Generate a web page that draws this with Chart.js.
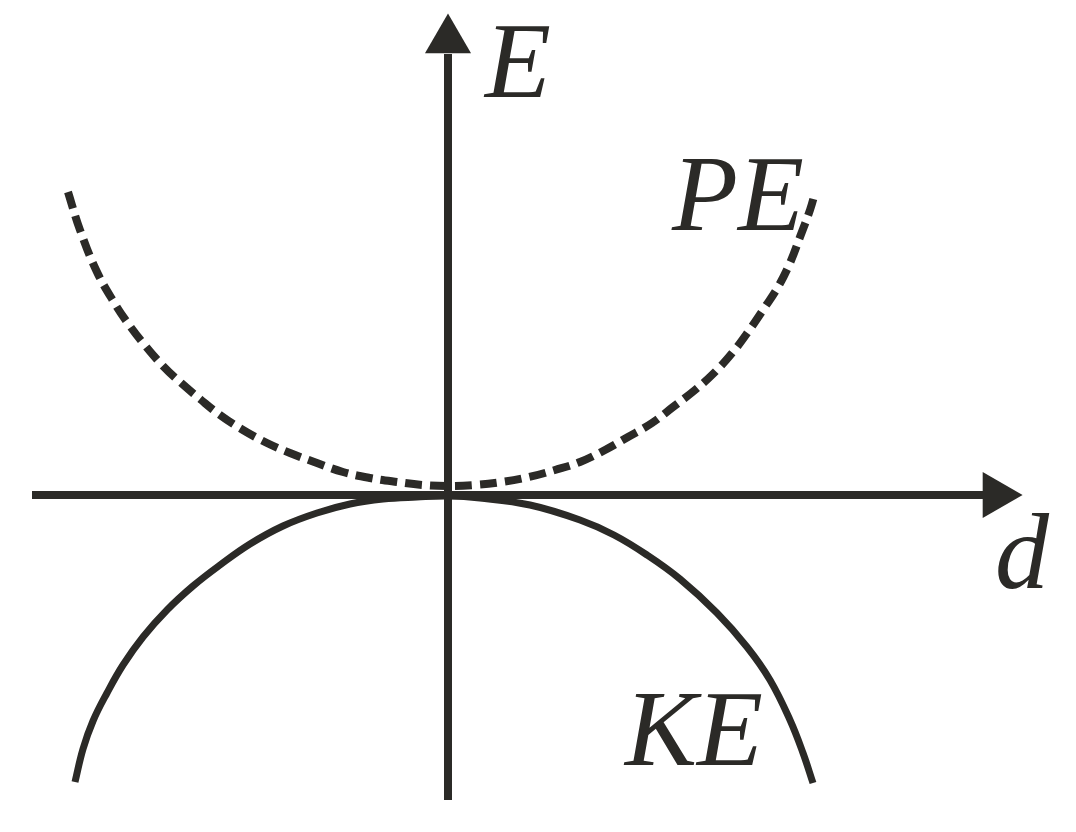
<!DOCTYPE html>
<html>
<head>
<meta charset="utf-8">
<title>E vs d</title>
<script src="https://cdn.jsdelivr.net/npm/chart.js@4/dist/chart.umd.min.js"></script>
<style>
  html, body { margin:0; padding:0; background:#fff; overflow:hidden; }
  #wrap { width:1076px; height:832px; position:relative; }
</style>
</head>
<body>
<div id="wrap"><canvas id="chart"></canvas></div>
<script>
const INK = "#2b2a27";

// PE curve (dashed), d and E in arbitrary units
const peD = [-3.80,-3.68,-3.51,-3.33,-3.21,-3.05,-2.85,-2.68,-2.48,-2.28,-2.05,-1.81,-1.58,-1.31,-1.05,-0.78,-0.51,-0.25,0,
             0.27,0.54,0.81,1.07,1.32,1.57,1.80,2.04,2.25,2.47,2.67,2.85,3.00,3.17,3.30,3.42,3.52,3.62,3.67];
const peE = [3.03,2.65,2.23,1.91,1.73,1.52,1.29,1.13,0.96,0.80,0.65,0.52,0.42,0.32,0.23,0.17,0.13,0.10,0.09,
             0.10,0.13,0.18,0.25,0.33,0.45,0.58,0.72,0.88,1.05,1.23,1.43,1.63,1.88,2.08,2.32,2.58,2.85,3.02];

// KE curve (solid)
const keD = [-3.73,-3.65,-3.55,-3.41,-3.25,-3.05,-2.81,-2.55,-2.28,-1.98,-1.65,-1.31,-0.98,-0.65,-0.31,0,
             0.32,0.82,1.32,1.66,1.99,2.32,2.69,2.99,3.22,3.42,3.55,3.65];
const keE = [-2.87,-2.54,-2.26,-1.98,-1.70,-1.42,-1.15,-0.91,-0.70,-0.49,-0.31,-0.18,-0.09,-0.04,-0.02,-0.01,
             -0.03,-0.10,-0.25,-0.40,-0.60,-0.84,-1.18,-1.52,-1.85,-2.25,-2.58,-2.88];

// axes extent
const dAxis = [-4.16, 5.42];
const eAxis = [-3.05, 4.41];
const dArrowAt = 5.48;
const eArrowAt = 4.55;

// labels
const labelText = ["E", "PE", "KE", "d"];
const labelD    = [0.37, 2.24, 1.77, 5.47];
const labelE    = [3.98, 2.65, -2.70, -0.93];

const pts = (xs, ys) => xs.map((x, i) => ({ x, y: ys[i] }));

const labelsPlugin = {
  id: "labels",
  afterDatasetsDraw(chart) {
    const { ctx, scales: { x, y } } = chart;
    ctx.save();
    ctx.fillStyle = INK;
    ctx.font = "italic 108px 'Liberation Serif', 'DejaVu Serif', serif";
    ctx.textBaseline = "alphabetic";
    ctx.textAlign = "left";
    labelText.forEach((t, i) => ctx.fillText(t, x.getPixelForValue(labelD[i]), y.getPixelForValue(labelE[i])));
    ctx.restore();
  }
};

const lineBase = { showLine:true, pointRadius:0, borderColor:INK, fill:false };

new Chart(document.getElementById("chart"), {
  type: "scatter",
  data: {
    datasets: [
      { ...lineBase, label:"d axis", data: dAxis.map(x => ({ x, y:0 })), borderWidth:8 },
      { ...lineBase, label:"E axis", data: eAxis.map(y => ({ x:0, y })), borderWidth:8 },
      { label:"d arrow", data:[{ x:dArrowAt, y:0 }], pointStyle:"triangle", rotation:90, pointRadius:26.6,
        backgroundColor:INK, borderColor:INK, borderWidth:0 },
      { label:"E arrow", data:[{ x:0, y:eArrowAt }], pointStyle:"triangle", rotation:0, pointRadius:26.6,
        backgroundColor:INK, borderColor:INK, borderWidth:0 },
      { ...lineBase, label:"PE", data: pts(peD, peE), borderWidth:8, borderDash:[17, 8],
        borderCapStyle:"butt", tension:0.4 },
      { ...lineBase, label:"KE", data: pts(keD, keE), borderWidth:7, tension:0.4 }
    ]
  },
  options: {
    responsive: true,
    maintainAspectRatio: false,
    animation: false,
    events: [],
    layout: { padding: 0, autoPadding: false },
    plugins: { legend:{ display:false }, tooltip:{ enabled:false } },
    scales: {
      x: { type:"linear", display:false, min:-4.48, max:6.28 },
      y: { type:"linear", display:false, min:-3.37, max:4.95 }
    }
  },
  plugins: [labelsPlugin]
});
</script>
</body>
</html>
